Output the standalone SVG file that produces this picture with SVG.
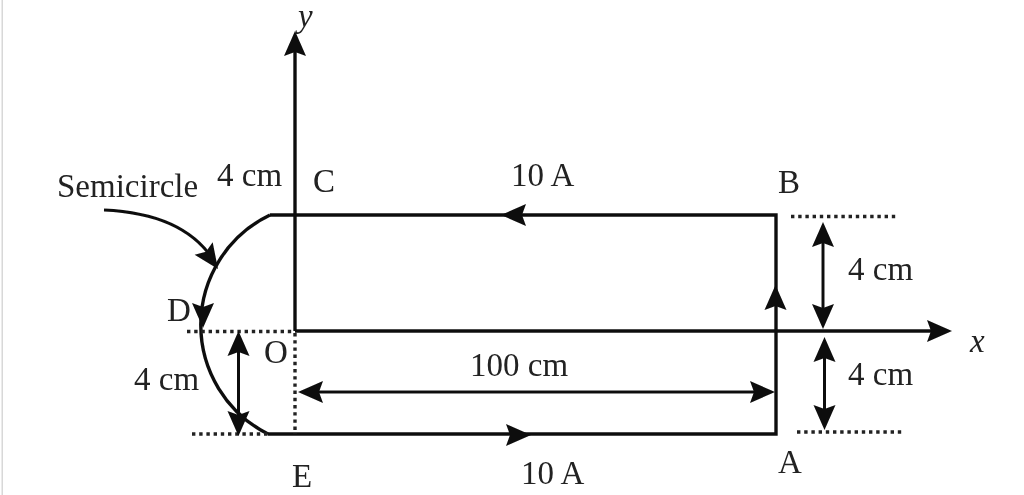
<svg xmlns="http://www.w3.org/2000/svg" width="1024" height="495" viewBox="0 0 1024 495">
<style>
text{font-family:"Liberation Serif","Times New Roman",serif;font-size:33px;fill:#222}
.i{font-style:italic}
.w{fill:none;stroke:#111;stroke-width:3.4}
.t{fill:none;stroke:#111;stroke-width:3}
.d{fill:none;stroke:#222;stroke-width:3.4;stroke-dasharray:3.4 3.8}
.h{fill:#0c0c0c}
</style>
<defs>
<filter id="soft" x="-2%" y="-2%" width="104%" height="104%"><feGaussianBlur stdDeviation="0.45"/></filter>
<polygon id="ah" points="0,0 -25,-11 -21,0 -25,11"/>
</defs>
<rect width="1024" height="495" fill="#fff"/>
<g filter="url(#soft)">
<rect x="1.5" y="0" width="1.5" height="495" fill="#d8d8d8"/>
<g id="connectors">
<path class="w" d="M295 331V45"/>
<path class="w" d="M295 331H932"/>
<path class="w" d="M268 434H776V215H270"/>
<path class="w" d="M270 215A122 122 0 0 0 268 434"/>
<path class="t" d="M104 210C150 212 195 226 217 266"/>
<path class="d" d="M187 331.5H295M192 434H268M295 333V434M791 216.5H897M797 432H902"/>
<path class="t" d="M823 235V316M824.5 350V418M238.5 345V422M311 392H764"/>
</g>
<g id="arrowheads" class="h">
<use href="#ah" transform="translate(295,31) rotate(-90)"/>
<use href="#ah" transform="translate(952,331)"/>
<use href="#ah" transform="translate(501,215) rotate(180)"/>
<use href="#ah" transform="translate(531,435)"/>
<use href="#ah" transform="translate(775.500,285) rotate(-90)"/>
<use href="#ah" transform="translate(203,328) rotate(90)"/>
<use href="#ah" transform="translate(218,269) rotate(55)"/>
<use href="#ah" transform="translate(823,222) rotate(-90)"/>
<use href="#ah" transform="translate(823,329) rotate(90)"/>
<use href="#ah" transform="translate(824.500,337) rotate(-90)"/>
<use href="#ah" transform="translate(824.500,430) rotate(90)"/>
<use href="#ah" transform="translate(238.500,331) rotate(-90)"/>
<use href="#ah" transform="translate(238.500,436) rotate(90)"/>
<use href="#ah" transform="translate(298,392) rotate(180)"/>
<use href="#ah" transform="translate(775,392)"/>
</g>
<g id="label-y"><text class="i" x="298" y="27">y</text></g>
<g id="label-x"><text class="i" x="970" y="352">x</text></g>
<g id="label-semicircle"><text x="57" y="197">Semicircle</text></g>
<g id="label-c-width"><text x="217" y="186">4 cm</text></g>
<g id="node-C"><text x="313" y="192">C</text></g>
<g id="label-top-current"><text x="511" y="186">10 A</text></g>
<g id="node-B"><text x="778" y="193">B</text></g>
<g id="label-upper-height"><text x="848" y="280">4 cm</text></g>
<g id="label-lower-height"><text x="848" y="385">4 cm</text></g>
<g id="node-D"><text x="167" y="321">D</text></g>
<g id="node-O"><text x="264" y="363">O</text></g>
<g id="label-left-height"><text x="134" y="390">4 cm</text></g>
<g id="label-length"><text x="470" y="376">100 cm</text></g>
<g id="node-E"><text x="292" y="487">E</text></g>
<g id="label-bottom-current"><text x="521" y="484">10 A</text></g>
<g id="node-A"><text x="778" y="473">A</text></g>
</g>
</svg>
